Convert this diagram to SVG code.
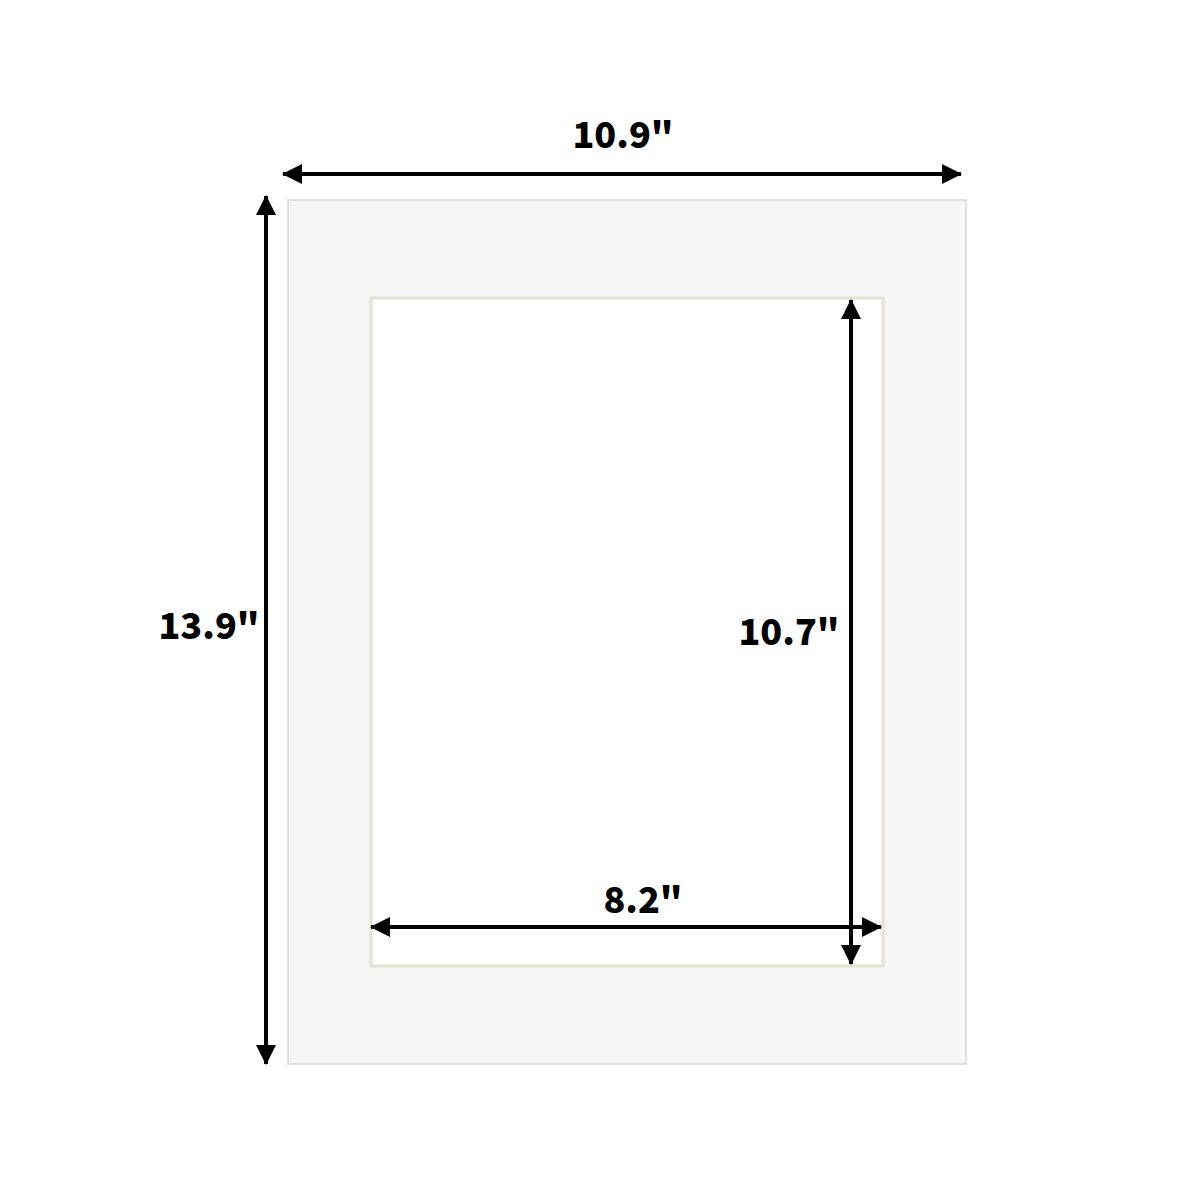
<svg xmlns="http://www.w3.org/2000/svg" width="1200" height="1200" viewBox="0 0 1200 1200">
<defs>
<style>
.lbl{font-family:"Noto Sans CJK SC","Noto Sans",sans-serif;font-weight:900;font-size:36px;fill:#000;text-anchor:middle}
.dim{stroke:#000;stroke-width:4;fill:none}
</style>
<marker id="ah" viewBox="0 0 20 20" refX="19" refY="10" markerWidth="20" markerHeight="20" markerUnits="userSpaceOnUse" orient="auto-start-reverse">
<path d="M0,0 L20,10 L0,20 Z" fill="#000"/>
</marker>
</defs>
<rect width="1200" height="1200" fill="#fff"/>
<g id="mat">
<rect x="288" y="200" width="678" height="864" fill="#f7f6f6" stroke="#d9d9d9" stroke-width="1.5"/>
<rect x="371" y="298" width="512" height="668" fill="#fff" stroke="#e6e1d5" stroke-width="3"/>
</g>
<g id="connectors">
<line class="dim" x1="283" y1="174" x2="961" y2="174" marker-start="url(#ah)" marker-end="url(#ah)"/>
<line class="dim" x1="266" y1="196" x2="266" y2="1064" marker-start="url(#ah)" marker-end="url(#ah)"/>
<line class="dim" x1="851" y1="300" x2="851" y2="964" marker-start="url(#ah)" marker-end="url(#ah)"/>
<line class="dim" x1="371" y1="927" x2="881" y2="927" marker-start="url(#ah)" marker-end="url(#ah)"/>
</g>
<g id="labels">
<text class="lbl" x="623" y="148">10.9"</text>
<text class="lbl" x="209" y="639">13.9"</text>
<text class="lbl" x="789" y="645">10.7"</text>
<text class="lbl" x="643" y="913">8.2"</text>
</g>
</svg>
